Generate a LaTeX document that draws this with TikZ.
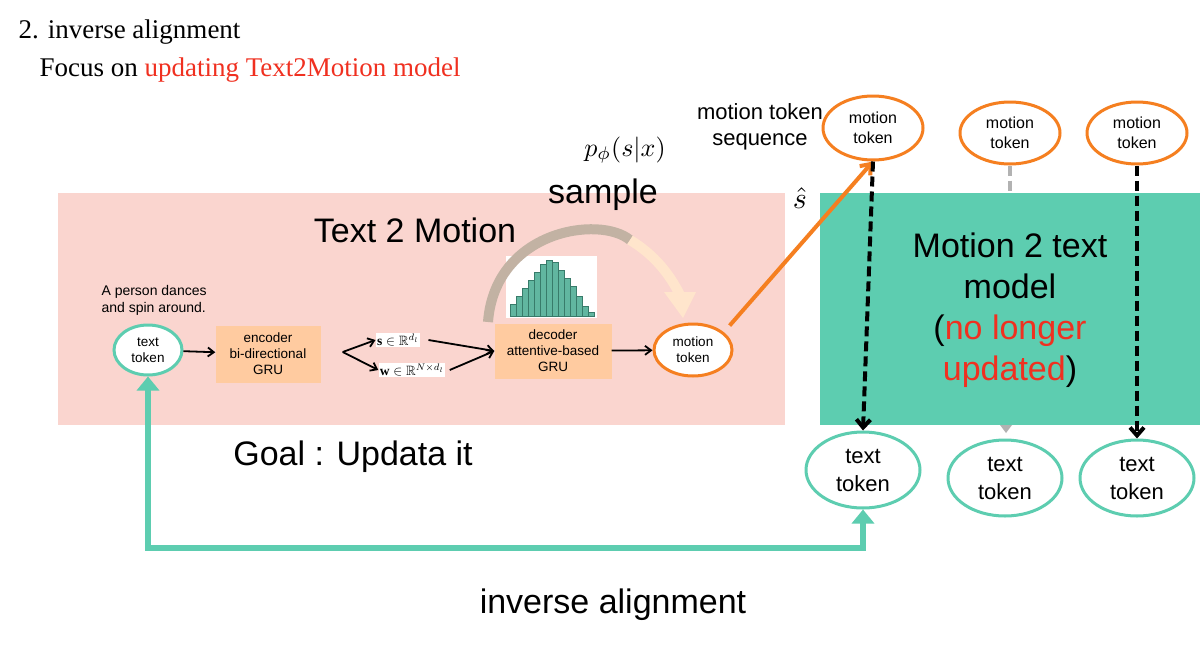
\documentclass[tikz,border=0pt]{standalone}
\usepackage{fontspec}
\usepackage{amsmath,amssymb}
\setmainfont{Liberation Serif}
\setsansfont{Liberation Sans}
\usetikzlibrary{arrows.meta,shapes.geometric}
\definecolor{pinkbg}{HTML}{FAD5CF}
\definecolor{teal}{HTML}{5DCDB0}
\definecolor{peach}{HTML}{FFCBA0}
\definecolor{orng}{HTML}{F57F20}
\definecolor{redt}{HTML}{F03020}
\begin{document}
\begin{tikzpicture}[x=1pt,y=-1pt,
  sf/.style={font=\sffamily},
  big/.style={font=\sffamily\fontsize{34}{40}\selectfont},
  tt/.style={ellipse,draw=teal,line width=3pt,fill=white,align=center,font=\sffamily,inner sep=0pt},
  mt/.style={ellipse,draw=orng,line width=3pt,fill=white,align=center,font=\sffamily,inner sep=0pt},
  bx/.style={fill=peach,align=center,font=\sffamily\fontsize{13.5}{16}\selectfont,inner sep=0pt},
  blk/.style={-{Straight Barb[length=6pt,width=9pt]},line width=1.8pt},
  dsh/.style={-{Straight Barb[length=8pt,width=14pt]},line width=4pt,dash pattern=on 10pt off 5pt}]
\useasboundingbox (0,0) rectangle (1200,646);
\fill[white] (0,0) rectangle (1200,646);
\node[anchor=west,font=\fontsize{27}{30}\selectfont] (t1) at (15,32) {2. inverse alignment};
\node[anchor=west,font=\fontsize{27}{30}\selectfont] (t2) at (36,70) {Focus on \textcolor{redt}{updating Text2Motion model}};
\fill[pinkbg] (58,193) rectangle (785,425);
\fill[teal] (820,193) rectangle (1200,425);
\node[big] (tm) at (415,230) {Text 2 Motion};
\node[anchor=west,align=left,font=\sffamily\fontsize{14}{17}\selectfont] (ap) at (98,300) {A person dances\\and spin around.};
\node[tt,minimum width=68pt,minimum height=50pt,font=\sffamily\fontsize{13.5}{16}\selectfont] (tt0) at (148,350) {text\\token};
\node[bx,minimum width=105pt,minimum height=57pt] (enc) at (268,354) {encoder\\bi-directional\\GRU};
\node[fill=white,inner sep=1pt,scale=1.35] (sv) at (398,340) {$\mathbf{s}\in\mathbb{R}^{d_l}$};
\node[fill=white,inner sep=1pt,scale=1.35] (wv) at (412,370) {$\mathbf{w}\in\mathbb{R}^{N\times d_l}$};
\node[bx,minimum width=117pt,minimum height=55pt] (dec) at (553,351) {decoder\\attentive-based\\GRU};
\node[mt,minimum width=78pt,minimum height=52pt,font=\sffamily\fontsize{13.5}{16}\selectfont] (mt0) at (693,350) {motion\\token};
% histogram
\fill[white] (506,256) rectangle (597,318);
\foreach \i/\h in {0/12,1/20,2/28,3/36,4/44,5/52,6/56,7/54,8/46,9/38,10/30,11/20,12/10,13/4}{
  \filldraw[fill=teal!85!black!90,draw=teal!60!black,line width=0.3pt] (510+\i*6,316) rectangle ++(6,-\h);}
% curved arrow
\draw[line width=10pt,draw=brown!40!gray!60] (488,322) .. controls (495,230) and (600,215) .. (630,240);
\draw[line width=10pt,draw=orange!20] (630,240) .. controls (655,255) and (670,275) .. (680,295);
\fill[orange!20] (664,292) -- (696,292) -- (683,318) -- cycle;
\draw[blk] (tt0) -- (enc);
\draw[blk] (enc.east) ++(22,-2) coordinate (fk) -- (sv.west);
\draw[blk] (fk) -- (wv.west);
\draw[blk] (sv.east)++(8,0) coordinate (s1) -- (dec.west);
\draw[blk] (wv.east)++(4,0) coordinate (w1) -- (dec.west);
\draw[blk] (dec) -- (mt0);
% right
\node[scale=2.6] (pp) at (625,150) {$p_\phi(s|x)$};
\node[big] (smp) at (603,195) {sample};
\node[align=center,font=\sffamily\fontsize{22}{26}\selectfont] (mts) at (760,127) {motion token\\sequence};
\node[scale=3] (sh) at (800,198) {$\hat{s}$};
\node[mt,minimum width=100pt,minimum height=64pt,font=\sffamily\fontsize{16}{20}\selectfont] (m1) at (873,128) {motion\\token};
\node[mt,minimum width=100pt,minimum height=62pt,font=\sffamily\fontsize{16}{20}\selectfont] (m2) at (1010,133) {motion\\token};
\node[mt,minimum width=100pt,minimum height=62pt,font=\sffamily\fontsize{16}{20}\selectfont] (m3) at (1137,133) {motion\\token};
\node[tt,minimum width=114pt,minimum height=76pt,font=\sffamily\fontsize{22}{28}\selectfont] (b1) at (863,470) {text\\token};
\node[tt,minimum width=114pt,minimum height=76pt,font=\sffamily\fontsize{22}{28}\selectfont] (b2) at (1005,478) {text\\token};
\node[tt,minimum width=114pt,minimum height=76pt,font=\sffamily\fontsize{22}{28}\selectfont] (b3) at (1137,478) {text\\token};
\node[align=center,font=\sffamily\fontsize{34}{41}\selectfont] (m2t) at (1010,310) {Motion 2 text\\model\\(\textcolor{redt}{no longer}\\\textcolor{redt}{updated})};
\draw[line width=4pt,orng,-{Straight Barb[length=9pt,width=14pt]}] (mt0.north east)++(8,-5) coordinate (oa) -- (m1.south);
\draw[dsh] (m1.south) -- (b1.north);
\draw[dsh] (m3.south) -- (b3.north);
\draw[line width=4pt,gray!60,dash pattern=on 10pt off 5pt] (m2.south) -- (1010,193);
\fill[gray!60] (1000,425) -- (1012,425) -- (1006,433) -- cycle;
% teal loop
\coordinate (c1) at (152,548);
\draw[line width=6pt,teal,{Triangle[length=14pt,width=22pt]}-{Triangle[length=14pt,width=22pt]}] (tt0.south) |- (c1) -| (b1.south);
\node[big] (goal) at (353,457) {Goal : Updata it};
\node[big] (inv) at (613,605) {inverse alignment};
\end{tikzpicture}
\end{document}
